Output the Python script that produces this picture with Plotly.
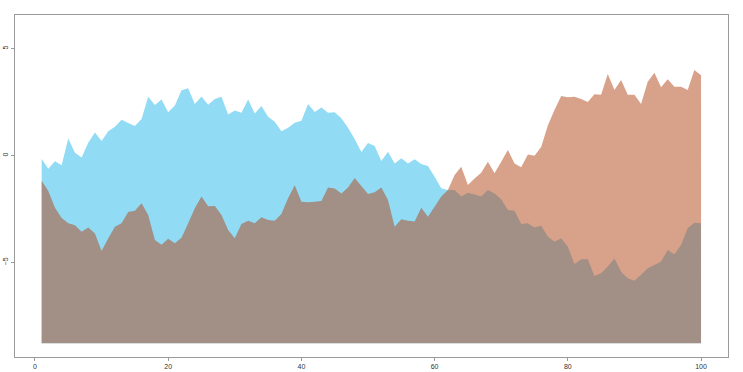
import plotly.graph_objects as go

X = list(range(1, 101))

# Series A (blue)
series_a = [
    -0.16, -0.62, -0.27, -0.46, 0.79, 0.13, -0.09, 0.60, 1.08, 0.68,
    1.14, 1.35, 1.67, 1.52, 1.38, 1.71, 2.75, 2.36, 2.62, 2.02,
    2.34, 3.05, 3.14, 2.41, 2.76, 2.37, 2.64, 2.75, 1.92, 2.10,
    2.00, 2.62, 1.97, 2.31, 1.81, 1.58, 1.13, 1.30, 1.53, 1.63,
    2.41, 2.03, 2.25, 2.00, 2.02, 1.74, 1.30, 0.77, 0.16, 0.58,
    0.44, -0.26, 0.18, -0.37, -0.13, -0.37, -0.18, -0.40, -0.49, -0.99,
    -1.53, -1.61, -1.61, -1.92, -1.74, -1.82, -1.92, -1.61, -1.77, -2.05,
    -2.55, -2.58, -3.20, -3.17, -3.37, -3.28, -3.79, -4.03, -3.87, -4.26,
    -5.07, -4.85, -4.85, -5.63, -5.51, -5.19, -4.81, -5.43, -5.74, -5.85,
    -5.58, -5.27, -5.12, -4.96, -4.42, -4.62, -4.18, -3.40, -3.14, -3.17,
]

# Series B (salmon)
series_b = [
    -1.18, -1.66, -2.44, -2.92, -3.17, -3.26, -3.56, -3.37, -3.64, -4.46,
    -3.87, -3.33, -3.17, -2.64, -2.58, -2.23, -2.78, -3.95, -4.17, -3.89,
    -4.10, -3.85, -3.17, -2.47, -1.92, -2.37, -2.36, -2.78, -3.48, -3.87,
    -3.20, -3.05, -3.17, -2.89, -3.01, -3.05, -2.73, -2.00, -1.39, -2.16,
    -2.19, -2.16, -2.13, -1.49, -1.54, -1.77, -1.49, -1.05, -1.43, -1.80,
    -1.72, -1.49, -2.08, -3.33, -2.98, -3.05, -3.09, -2.44, -2.86, -2.39,
    -1.92, -1.61, -0.91, -0.52, -1.38, -1.07, -0.80, -0.29, -0.83, -0.29,
    0.26, -0.37, -0.55, 0.05, -0.01, 0.40, 1.40, 2.13, 2.78, 2.72,
    2.75, 2.64, 2.50, 2.86, 2.84, 3.81, 3.06, 3.53, 2.84, 2.84,
    2.41, 3.45, 3.87, 3.19, 3.57, 3.22, 3.22, 3.06, 4.00, 3.75,
]

BASE = -8.78

x_ticks = [0, 20, 40, 60, 80, 100]
y_ticks = [-5, 0, 5]

fig = go.Figure()
fig.add_trace(go.Scatter(
    x=[X[0]] + X + [X[-1]], y=[BASE] + series_a + [BASE],
    fill="toself", fillcolor="rgb(146,219,244)", mode="none",
    line=dict(width=0), hoverinfo="skip", showlegend=False,
))
fig.add_trace(go.Scatter(
    x=[X[0]] + X + [X[-1]], y=[BASE] + series_b + [BASE],
    fill="toself", fillcolor="rgba(177,67,21,0.5)", mode="none",
    line=dict(width=0), hoverinfo="skip", showlegend=False,
))

axis_common = dict(
    showgrid=False, zeroline=False, showline=True, mirror=True,
    linecolor="#9a9a9a", linewidth=1, ticks="outside", ticklen=3,
    tickcolor="#9a9a9a", automargin=False,
    tickfont=dict(family="Liberation Sans, Arial", size=7, color="#333"),
)

fig.update_layout(
    width=743, height=372,
    margin=dict(l=15, r=15, t=15, b=15),
    paper_bgcolor="white", plot_bgcolor="white",
    xaxis=dict(range=[-3.0, 104.05], tickvals=x_ticks, ticklabelstandoff=0, **axis_common),
    yaxis=dict(range=[-9.42, 6.57], tickvals=y_ticks, tickangle=-90, **axis_common),
)

fig.write_html("out.html")
